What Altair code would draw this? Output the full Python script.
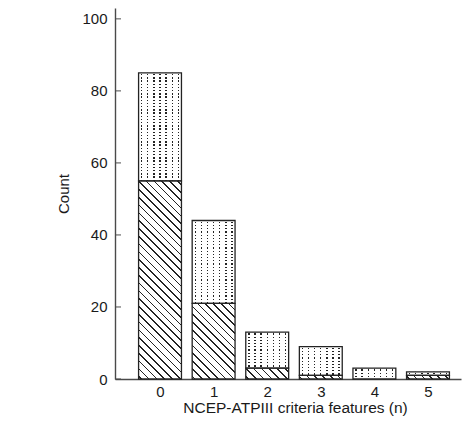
import altair as alt

# ---- data ----
categories = [0, 1, 2, 3, 4, 5]
hatched = [55, 21, 3, 1, 0, 1]     # lower, diagonally hatched segment
dotted = [30, 23, 10, 8, 3, 1]     # upper, dotted segment
y_ticks = [0, 20, 40, 60, 80, 100]
x_title = "NCEP-ATPIII criteria features (n)"
y_title = "Count"

# ---- layout / style ----
W, H = 346, 371
X_DOMAIN = [-0.84, 5.616]
Y_DOMAIN = [0, 103]
HALF = 0.4
INK = "#232323"
AXIS = "#4a4a4a"
FONT = "Liberation Sans"
PAPER = "#ffffff"
CLEAR = "rgba(255,255,255,0)"

px_x = W / (X_DOMAIN[1] - X_DOMAIN[0])
px_y = H / (Y_DOMAIN[1] - Y_DOMAIN[0])
bar_w = 2 * HALF * px_x


def band_stops(length, period, ink_len, ink, paper, phase=0.0):
    stops = [{"offset": 0.0, "color": paper}]
    pos = phase
    while pos < length:
        a = pos / length
        b = min((pos + ink_len) / length, 1.0)
        c = min((pos + period) / length, 1.0)
        stops += [{"offset": a, "color": paper}, {"offset": a, "color": ink},
                  {"offset": b, "color": ink}, {"offset": b, "color": paper},
                  {"offset": c, "color": paper}]
        pos += period
    return stops


def hatch_fill(h):
    # diagonal "\\\" lines at 45 degrees, constant spacing in pixels
    L = 290.0
    k = bar_w * L / (bar_w ** 2 + h ** 2)
    return {"gradient": "linear", "x1": 0, "y1": 1, "x2": k, "y2": 1 - k * h / bar_w,
            "stops": band_stops(L, 7.8, 1.5, INK, PAPER, phase=2.0)}


def column_fill():
    n = 7
    stops = [{"offset": 0.0, "color": PAPER}]
    half = 0.7 / bar_w
    for i in range(n):
        c = (i + 0.5) / n
        stops += [{"offset": c - half, "color": PAPER}, {"offset": c - half, "color": INK},
                  {"offset": c + half, "color": INK}, {"offset": c + half, "color": PAPER}]
    stops.append({"offset": 1.0, "color": PAPER})
    return {"gradient": "linear", "x1": 0, "y1": 0, "x2": 1, "y2": 0, "stops": stops}


def row_veil(h):
    L = 130.0
    return {"gradient": "linear", "x1": 0, "y1": 0, "x2": 1e-6, "y2": L / h,
            "stops": band_stops(L, 3.2, 1.3, CLEAR, PAPER, phase=1.2)}


rows = []
for c, hv, dv in zip(categories, hatched, dotted):
    if hv > 0:
        rows.append({"cat": c, "seg": "hatched", "lo": 0, "hi": hv,
                     "pattern": hatch_fill(hv * px_y), "veil": CLEAR})
    if dv > 0:
        rows.append({"cat": c, "seg": "dotted", "lo": hv, "hi": hv + dv,
                     "pattern": column_fill(), "veil": row_veil(dv * px_y)})

x_scale = alt.Scale(domain=X_DOMAIN, nice=False, zero=False)
y_scale = alt.Scale(domain=Y_DOMAIN, nice=False)
x_axis = alt.Axis(values=categories, format="d", ticks=False, tickSize=0, labelPadding=5,
                  title=x_title, titlePadding=1, titleX=180, titleFontSize=15.5, grid=False)
y_axis = alt.Axis(values=y_ticks, ticks=False, tickSize=0, labelPadding=8,
                  title=y_title, titlePadding=10, grid=False)

base = alt.Chart(alt.Data(values=rows)).transform_calculate(
    xl=f"datum.cat - {HALF}", xr=f"datum.cat + {HALF}"
).encode(
    x=alt.X("xl:Q", scale=x_scale, axis=x_axis),
    x2=alt.X2("xr:Q"),
    y=alt.Y("lo:Q", scale=y_scale, axis=y_axis),
    y2=alt.Y2("hi:Q"),
)

pattern_layer = base.mark_bar().encode(fill=alt.Fill("pattern:N", scale=None))
veil_layer = base.transform_filter("datum.seg == 'dotted'").mark_bar().encode(
    fill=alt.Fill("veil:N", scale=None))
outline_layer = base.mark_bar(fillOpacity=0, stroke=INK, strokeWidth=1.3)

tick_layer = alt.Chart(alt.Data(values=[{"v": t} for t in y_ticks])).mark_tick(
    orient="horizontal", size=6, thickness=1.4, color=AXIS
).encode(
    y=alt.Y("v:Q", scale=y_scale, axis=y_axis),
    x=alt.value(3),
)

chart = alt.layer(pattern_layer, veil_layer, outline_layer, tick_layer).properties(
    width=W, height=H, autosize="none",
    padding={"left": 107, "top": 0, "right": 5, "bottom": 39},
).configure_view(strokeWidth=0).configure_axis(
    domainColor=AXIS, domainWidth=1.4,
    labelFont=FONT, labelFontSize=15, labelColor="#1a1a1a",
    titleFont=FONT, titleFontSize=15, titleFontWeight="normal", titleColor="#1a1a1a",
)

chart.save("out.html", embed_options={"renderer": "svg", "actions": False})
